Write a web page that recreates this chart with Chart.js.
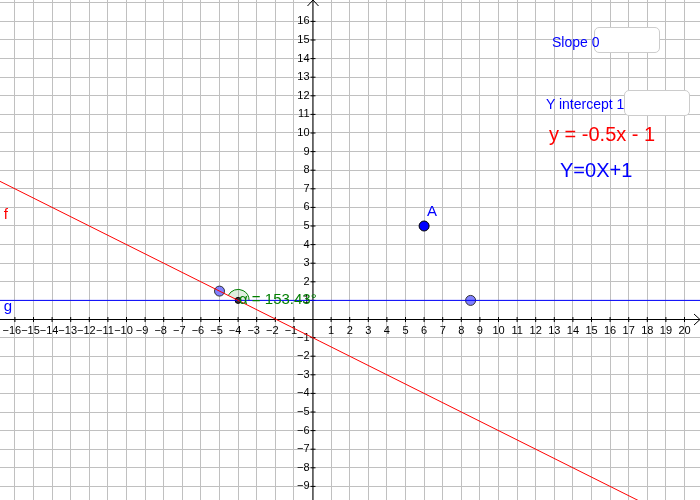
<!DOCTYPE html>
<html><head><meta charset="utf-8">
<script src="https://cdn.jsdelivr.net/npm/chart.js@4"></script>
<style>
html,body{margin:0;padding:0;background:#fff;overflow:hidden}
#wrap{position:relative;width:700px;height:500px}
.box{position:absolute;height:26px;border:1px solid #ccc;border-radius:5px;background:#fff;box-sizing:border-box}
.lbl{position:absolute;font:14px "Liberation Sans",Arial,sans-serif;color:#0000ff}
</style></head><body>
<div id="wrap"><canvas id="c" width="700" height="500"></canvas>
<div class="box" style="left:594px;top:27px;width:66px"></div>
<div class="lbl" style="left:552px;top:34px">Slope 0</div>
<div class="box" style="left:624px;top:90px;width:66px"></div>
<div class="lbl" style="left:546px;top:96px">Y intercept 1</div>
</div>
<script>
const xTicks=[-16,-15,-14,-13,-12,-11,-10,-9,-8,-7,-6,-5,-4,-3,-2,-1,1,2,3,4,5,6,7,8,9,10,11,12,13,14,15,16,17,18,19,20];
const yTicks=[-9,-8,-7,-6,-5,-4,-3,-2,-1,1,2,3,4,5,6,7,8,9,10,11,12,13,14,15,16];
const fSlope=-0.5, fIntercept=-1;
const gSlope=0, gIntercept=1;
const lineX=[-17,21];
const freePoints=[{x:-5,y:1.5},{x:8.5,y:1}];
const pointA=[{x:6,y:5}];
const vertex=[{x:-4,y:1}];
const fPts=lineX.map(x=>({x,y:fSlope*x+fIntercept}));
const gPts=lineX.map(x=>({x,y:gSlope*x+gIntercept}));
const minus=s=>String(s).replace('-','\u2212');
const deco={id:'deco',
 beforeDatasetsDraw(ch){const c=ch.ctx,xs=ch.scales.x,ys=ch.scales.y;
  const x0=xs.getPixelForValue(0),y0=ys.getPixelForValue(0);
  c.save();c.strokeStyle='#000';c.lineWidth=1;
  c.beginPath();c.moveTo(0,y0+0.5);c.lineTo(700,y0+0.5);c.moveTo(x0+0.5,0);c.lineTo(x0+0.5,500);c.stroke();
  c.beginPath();c.moveTo(694,y0-5);c.lineTo(700,y0+0.5);c.lineTo(694,y0+6);c.stroke();
  c.beginPath();c.moveTo(x0-5,6);c.lineTo(x0+0.5,0);c.lineTo(x0+6,6);c.stroke();
  c.fillStyle='#000';c.font='11px "Liberation Sans",Arial,sans-serif';
  c.textAlign='center';c.textBaseline='top';
  xTicks.forEach(v=>{const p=xs.getPixelForValue(v);c.fillText(minus(v),p-(v<0?3:0),y0+6);
   c.beginPath();c.moveTo(p,y0-2);c.lineTo(p,y0+3);c.stroke();});
  c.textAlign='right';c.textBaseline='middle';
  yTicks.forEach(v=>{const p=ys.getPixelForValue(v);c.fillText(minus(v),x0-3,p);
   c.beginPath();c.moveTo(x0-2,p);c.lineTo(x0+3,p);c.stroke();});
  const vx=xs.getPixelForValue(-4),vy=ys.getPixelForValue(1);
  c.strokeStyle='#007f00';c.fillStyle='rgba(0,127,0,0.12)';
  c.beginPath();c.moveTo(vx,vy);c.arc(vx,vy,11,Math.PI+Math.atan(0.5),2*Math.PI);c.closePath();c.fill();
  c.beginPath();c.arc(vx,vy,11,Math.PI+Math.atan(0.5),2*Math.PI);c.stroke();
  c.restore();},
 afterDatasetsDraw(ch){const c=ch.ctx,xs=ch.scales.x,ys=ch.scales.y;c.save();
  const t=(s,x,y,col,f)=>{c.fillStyle=col;c.font=f;c.fillText(s,xs.getPixelForValue(x),ys.getPixelForValue(y));};
  c.textBaseline='alphabetic';c.textAlign='left';
  t('f',-16.6,5.4,'#ff0000','15px "Liberation Sans",Arial,sans-serif');
  t('g',-16.6,0.45,'#0000ff','15px "Liberation Sans",Arial,sans-serif');
  t('A',6.15,5.55,'#0000ff','15px "Liberation Sans",Arial,sans-serif');
  t('\u03b1 = 153.43°',-3.95,0.8,'#007f00','15px "Liberation Sans",Arial,sans-serif');
  c.fillStyle='#ff0000';c.font='20px "Liberation Sans",Arial,sans-serif';c.fillText('y = -0.5x - 1',549,141);
  c.fillStyle='#0000ff';c.font='20px "Liberation Sans",Arial,sans-serif';c.fillText('Y=0X+1',560,177);
  c.restore();}};
new Chart(document.getElementById('c'),{type:'scatter',
 data:{datasets:[
  {data:fPts,showLine:true,borderColor:'#ff0000',borderWidth:1,pointRadius:0},
  {data:gPts,showLine:true,borderColor:'#0000ff',borderWidth:1,pointRadius:0},
  {data:freePoints,pointRadius:5,backgroundColor:'#8080ff',borderColor:'#333',borderWidth:1},
  {data:pointA,pointRadius:5,backgroundColor:'#0000ff',borderColor:'#000',borderWidth:1},
  {data:vertex,pointRadius:3,backgroundColor:'#333',borderColor:'#000',borderWidth:1}]},
 options:{responsive:false,animation:false,layout:{padding:0,autoPadding:false},
  plugins:{legend:{display:false},tooltip:{enabled:false}},
  scales:{
   x:{type:'linear',min:-312.5/18.6,max:387.5/18.6,ticks:{display:false,stepSize:1},grid:{color:'#c0c0c0',drawTicks:false},border:{display:false},afterFit(s){s.height=0;},
     afterBuildTicks(s){const a=[];for(let i=-16;i<=20;i++)a.push({value:i});s.ticks=a;}},
   y:{type:'linear',min:-181/18.6,max:319/18.6,ticks:{display:false,stepSize:1},grid:{color:'#c0c0c0',drawTicks:false},border:{display:false},afterFit(s){s.width=0;},
     afterBuildTicks(s){const a=[];for(let i=-9;i<=17;i++)a.push({value:i});s.ticks=a;}}}},
 plugins:[deco]});
</script></body></html>
